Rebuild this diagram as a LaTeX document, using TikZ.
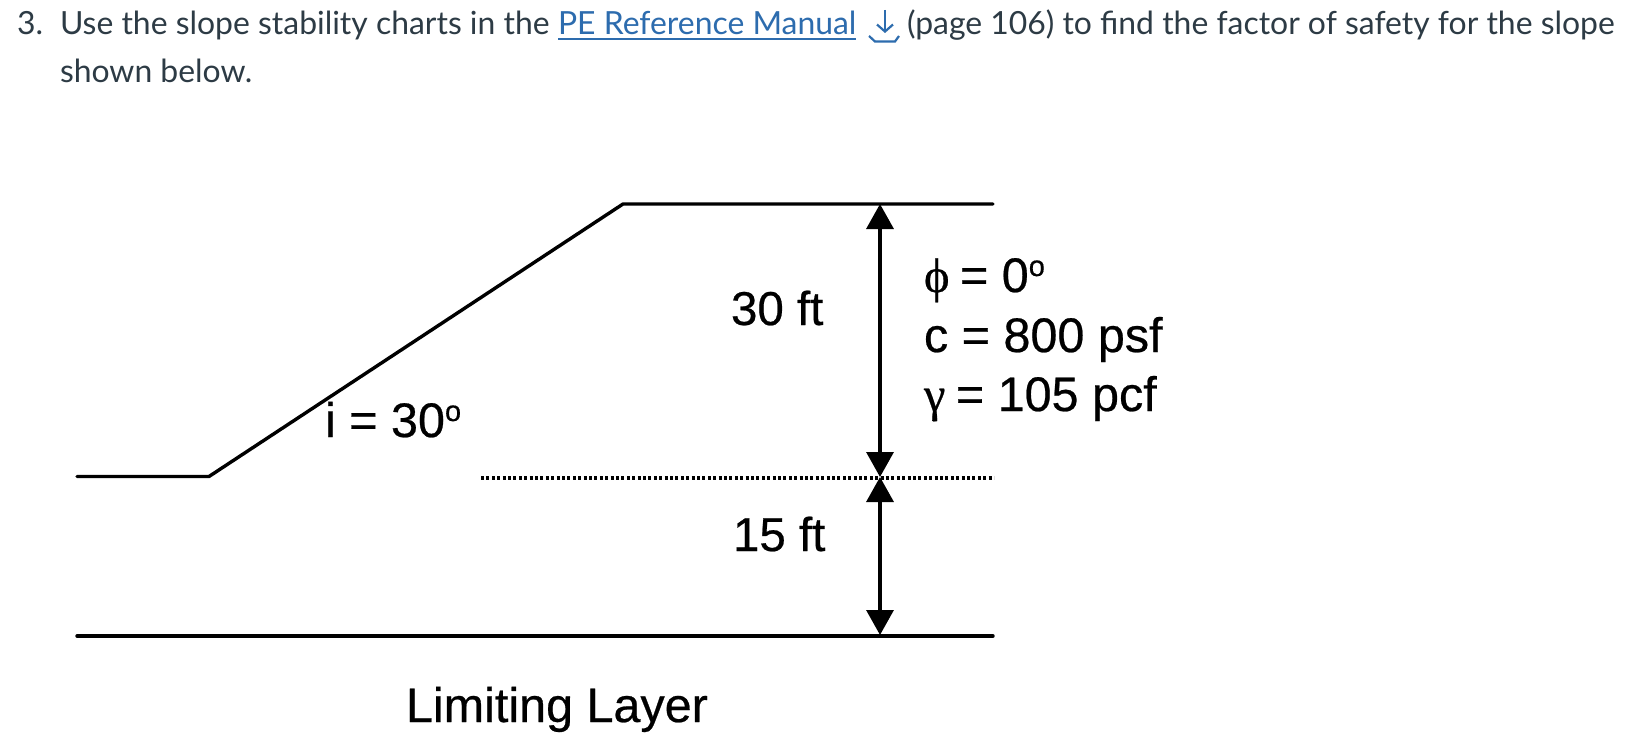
\documentclass[tikz,border=0pt]{standalone}
\usepackage{fontspec}
\setmainfont{Lato}
\newfontfamily\diag[FakeBold=0.5]{Liberation Sans}
\newfontfamily\diagserif[FakeBold=0.5]{Liberation Serif}
\usetikzlibrary{arrows.meta}
\definecolor{hdr}{HTML}{2D3B45}
\definecolor{lnk}{HTML}{2D6CAE}
\tikzset{
  hdrtext/.style={anchor=base west,inner sep=0pt,outer sep=0pt,text=hdr,font=\fontsize{31.9}{38}\selectfont},
  linktext/.style={hdrtext,text=lnk},
  lbl/.style={anchor=base west,inner sep=0pt,outer sep=0pt,text=black,font=\fontsize{48.5}{58}\diag\selectfont},
  dimlbl/.style={lbl,font=\fontsize{47.5}{58}\diag\selectfont},
  ground/.style={line width=3.4pt,black,line cap=round},
  dim/.style={line width=3.4pt,black,{Triangle[width=27pt,length=25pt]}-{Triangle[width=27pt,length=25pt]},shorten <=0pt,shorten >=0pt},
  limit/.style={line width=3.2pt,black,dash pattern=on 3pt off 2.4pt},
  icon/.style={line width=2.2pt,lnk}
}
\begin{document}
\begin{tikzpicture}[x=1pt,y=-1pt]
\useasboundingbox (0,0) rectangle (1632,754);
\fill[white] (0,0) rectangle (1632,754);
% header
\node[hdrtext] (num) at (17,35) {3.};
\node[hdrtext] (t1) at (60,35) {Use the slope stability charts in the};
\node[linktext] (t2) at (558,35) {PE Reference Manual};
\draw[lnk,line width=1.6pt] (t2.base west)++(0,4) coordinate (ua) -- (t2.base east |- ua);
\node[hdrtext] (t3) at (907,35) {(page 106) to find the factor of safety for the slope};
\node[hdrtext] (t4) at (60,83) {shown below.};
\coordinate (ia) at (885,10);
\coordinate (ib) at (885,33);
\draw[icon,-{Straight Barb[length=7pt,width=16pt]}] (ia) -- (ib);
\draw[icon] (869,36) -- (875,41.5) -- (895,41.5) -- (899,36);
% ground
\coordinate (la) at (77,476.5);
\coordinate (lb) at (209,476.5);
\coordinate (lc) at (623,204);
\coordinate (ld) at (993,204);
\draw[ground,line join=round] (la) -- (lb) -- (lc) -- (ld);
\coordinate (ba) at (77,636);
\coordinate (bb) at (993,636);
\draw[ground] (ba) -- (bb);
\coordinate (da) at (481,478);
\coordinate (db) at (994,478);
\draw[limit] (da) -- (db);
% dimensions
\coordinate (a1) at (880,204);
\coordinate (a2) at (880,477);
\coordinate (a3) at (880,635);
\draw[dim] (a1) -- (a2);
\draw[dim] (a2) -- (a3);
% labels
\node[dimlbl] (h1) at (731,325) {30 ft};
\node[dimlbl] (h2) at (733,551) {15 ft};
\node[lbl] (ang) at (325,437) {i = 30\raisebox{0.33em}{\fontsize{29}{29}\selectfont o}};
\node[lbl] (phi) at (924,292) {{\diagserif ϕ}\hspace{-3pt} = 0\raisebox{0.33em}{\fontsize{29}{29}\selectfont o}};
\node[lbl] (coh) at (924,352) {c = 800 psf};
\node[lbl] (gam) at (924,411) {{\diagserif γ}\hspace{-3pt} = 105 pcf};
\node[lbl] (lim) at (406,722) {Limiting Layer};
\end{tikzpicture}
\end{document}
